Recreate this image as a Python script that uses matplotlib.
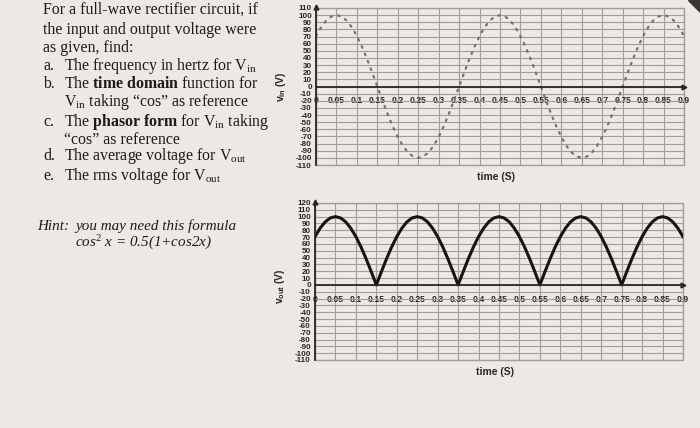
import matplotlib.pyplot as plt
from matplotlib.patches import Rectangle, Polygon

plt.rcParams['mathtext.fontset'] = 'custom'
plt.rcParams['mathtext.rm'] = 'Liberation Serif'
plt.rcParams['mathtext.it'] = 'Liberation Serif:italic'
plt.rcParams['mathtext.bf'] = 'Liberation Serif:bold'
plt.rcParams['mathtext.sf'] = 'Liberation Sans:bold'

PAGE = '#ece8e4'
GRID = '#a39d9a'
INK = '#2a2626'
TICK_FONT = ['Liberation Sans Narrow', 'Liberation Sans', 'DejaVu Sans']

# readings every 0.0125 s
time_s = [0.0, 0.0125, 0.025, 0.0375, 0.05, 0.0625, 0.075, 0.0875,
          0.1, 0.1125, 0.125, 0.1375, 0.15, 0.1625, 0.175, 0.1875,
          0.2, 0.2125, 0.225, 0.2375, 0.25, 0.2625, 0.275, 0.2875,
          0.3, 0.3125, 0.325, 0.3375, 0.35, 0.3625, 0.375, 0.3875,
          0.4, 0.4125, 0.425, 0.4375, 0.45, 0.4625, 0.475, 0.4875,
          0.5, 0.5125, 0.525, 0.5375, 0.55, 0.5625, 0.575, 0.5875,
          0.6, 0.6125, 0.625, 0.6375, 0.65, 0.6625, 0.675, 0.6875,
          0.7, 0.7125, 0.725, 0.7375, 0.75, 0.7625, 0.775, 0.7875,
          0.8, 0.8125, 0.825, 0.8375, 0.85, 0.8625, 0.875, 0.8875, 0.9]
v_in = [70.7, 83.1, 92.4, 98.1, 100, 98.1, 92.4, 83.1,
        70.7, 55.6, 38.3, 19.5, 0, -19.5, -38.3, -55.6,
        -70.7, -83.1, -92.4, -98.1, -100, -98.1, -92.4, -83.1,
        -70.7, -55.6, -38.3, -19.5, 0, 19.5, 38.3, 55.6,
        70.7, 83.1, 92.4, 98.1, 100, 98.1, 92.4, 83.1,
        70.7, 55.6, 38.3, 19.5, 0, -19.5, -38.3, -55.6,
        -70.7, -83.1, -92.4, -98.1, -100, -98.1, -92.4, -83.1,
        -70.7, -55.6, -38.3, -19.5, 0, 19.5, 38.3, 55.6,
        70.7, 83.1, 92.4, 98.1, 100, 98.1, 92.4, 83.1, 70.7]
v_out = [70.7, 83.1, 92.4, 98.1, 100, 98.1, 92.4, 83.1,
         70.7, 55.6, 38.3, 19.5, 0, 19.5, 38.3, 55.6,
         70.7, 83.1, 92.4, 98.1, 100, 98.1, 92.4, 83.1,
         70.7, 55.6, 38.3, 19.5, 0, 19.5, 38.3, 55.6,
         70.7, 83.1, 92.4, 98.1, 100, 98.1, 92.4, 83.1,
         70.7, 55.6, 38.3, 19.5, 0, 19.5, 38.3, 55.6,
         70.7, 83.1, 92.4, 98.1, 100, 98.1, 92.4, 83.1,
         70.7, 55.6, 38.3, 19.5, 0, 19.5, 38.3, 55.6,
         70.7, 83.1, 92.4, 98.1, 100, 98.1, 92.4, 83.1, 70.7]

x_ticks = [0, 0.05, 0.1, 0.15, 0.2, 0.25, 0.3, 0.35, 0.4, 0.45,
           0.5, 0.55, 0.6, 0.65, 0.7, 0.75, 0.8, 0.85, 0.9]
x_tick_labels = ['0', '0.05', '0.1', '0.15', '0.2', '0.25', '0.3', '0.35', '0.4', '0.45',
                 '0.5', '0.55', '0.6', '0.65', '0.7', '0.75', '0.8', '0.85', '0.9']
v_in_ticks = [-110, -100, -90, -80, -70, -60, -50, -40, -30, -20, -10, 0,
              10, 20, 30, 40, 50, 60, 70, 80, 90, 100, 110]
v_out_ticks = v_in_ticks + [120]

question = [
    (43, 10, "For a full-wave rectifier circuit, if"),
    (43, 30, "the input and output voltage were"),
    (43, 48, "as given, find:"),
    (43, 66, "a."),
    (64, 66, r"The frequency in hertz for V$_{\mathrm{in}}$"),
    (43, 84, "b."),
    (64, 84, r"The $\mathbf{time\ domain}$ function for"),
    (64, 102.5, r"V$_{\mathrm{in}}$ taking “cos” as reference"),
    (43, 121.5, "c."),
    (64, 121.5, r"The $\mathbf{phasor\ form}$ for V$_{\mathrm{in}}$ taking"),
    (64, 139.5, "“cos” as reference"),
    (43, 156.5, "d."),
    (64, 156.5, r"The average voltage for V$_{\mathrm{out}}$"),
    (43, 175.5, "e."),
    (64, 175.5, r"The rms voltage for V$_{\mathrm{out}}$"),
]


def draw_panel(ax, values, y_ticks, ylabel, dotted):
    ax.set_facecolor('none')
    ax.set_xlim(0, 0.9)
    ax.set_ylim(y_ticks[0], y_ticks[-1])
    ax.set_xticks(x_ticks)
    ax.set_xticklabels(x_tick_labels)
    ax.set_yticks(y_ticks)
    ax.set_yticklabels([str(v) for v in y_ticks])
    ax.grid(True, color=GRID, lw=0.8)
    ax.add_patch(Rectangle((0, 0), 1, 1, transform=ax.transAxes, fill=False,
                           edgecolor=GRID, lw=1.0, clip_on=False))
    for side in ('top', 'right'):
        ax.spines[side].set_visible(False)
    ax.spines['bottom'].set_position(('data', 0))
    ax.spines['bottom'].set_color(INK)
    ax.spines['bottom'].set_linewidth(1.3)
    ax.spines['left'].set_color(INK)
    ax.spines['left'].set_linewidth(1.3)
    ax.tick_params(length=0, colors=INK)
    ax.tick_params(axis='x', pad=7)
    ax.tick_params(axis='y', pad=3)
    for lab in ax.get_xticklabels():
        lab.set_family(TICK_FONT)
        lab.set_fontweight('bold')
        lab.set_fontsize(6.2)
    for lab in ax.get_yticklabels():
        lab.set_family(TICK_FONT)
        lab.set_fontweight('bold')
        lab.set_fontsize(5.8)
    ax.plot(0, 1.005, '^', color=INK, ms=3.5, transform=ax.get_xaxis_transform(), clip_on=False)
    ax.plot(1.0, 0, '>', color=INK, ms=3.5, transform=ax.get_yaxis_transform(), clip_on=False)

    if dotted:
        ax.plot(time_s, values, color='#77716f', lw=1.6, ls=(0, (0.8, 2.8)),
                dash_capstyle='round')
    else:
        ax.plot(time_s, values, color='#141414', lw=2.2)

    ax.set_ylabel(ylabel, fontsize=7.5, color=INK)
    ax.set_xlabel('time (S)', family=TICK_FONT, fontweight='bold', fontsize=7.5, color=INK)
    ax.xaxis.set_label_coords(0.49, -0.045)


fig = plt.figure(figsize=(7, 4.28), dpi=100, facecolor=PAGE)
fig.patches.append(Polygon([(688 / 700, 1), (1, 1), (1, 1 - 12 / 428)], closed=True,
                           transform=fig.transFigure, color='#3a3533', zorder=5))

ax_in = fig.add_axes([316 / 700, 1 - 165 / 428, 368 / 700, 157 / 428])
draw_panel(ax_in, v_in, v_in_ticks, r'$\mathsf{v_{in}}$ (V)', True)
ax_in.yaxis.set_label_coords(-0.075, 0.5)

ax_out = fig.add_axes([315 / 700, 1 - 360 / 428, 368 / 700, 157 / 428])
draw_panel(ax_out, v_out, v_out_ticks, r'$\mathsf{v_{out}}$ (V)', False)
ax_out.yaxis.set_label_coords(-0.075, 0.47)
for lab in (ax_in.yaxis.label, ax_out.yaxis.label):
    lab.set_family(TICK_FONT)
    lab.set_fontweight('bold')

for x, y, s in question:
    fig.text(x / 700, 1 - y / 428, s, family='Liberation Serif', fontsize=11.4,
             color='#1c1a1a', va='center', ha='left')

fig.text(37 / 700, 1 - 226 / 428, 'Hint:', family='Liberation Serif', style='italic',
         fontsize=10.9, color='#1c1a1a', va='center')
fig.text(75 / 700, 1 - 226 / 428, 'you may need this formula', family='Liberation Serif',
         style='italic', fontsize=10.9, color='#1c1a1a', va='center')
fig.text(75 / 700, 1 - 243 / 428, r'cos$^{\mathit{2}}$ x = 0.5(1+cos2x)', family='Liberation Serif',
         style='italic', fontsize=10.9, color='#1c1a1a', va='center')

fig.savefig('out.png', dpi=100, facecolor=PAGE)
